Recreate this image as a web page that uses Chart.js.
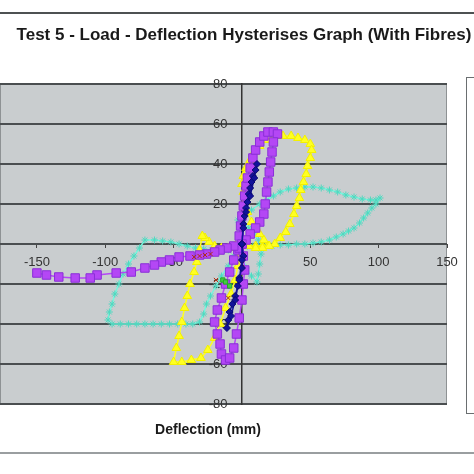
<!DOCTYPE html>
<html>
<head>
<meta charset="utf-8">
<script src="https://cdn.jsdelivr.net/npm/chart.js@4"></script>
<style>
    html, body { margin: 0; padding: 0; background: #fff; }
    #wrap { width: 474px; height: 474px; }
</style>
</head>
<body>
<div id="wrap"><canvas id="hysteresisChart" width="474" height="474"></canvas></div>
<script>
// Test 5 - load (kN) vs deflection (mm)
var chartTitle = 'Test 5 - Load - Deflection Hysterises Graph (With Fibres)';
var xAxisTitle = 'Deflection (mm)';

var xTickValues = [-150, -100, -50, 50, 100, 150];
var yTickValues = [-80, -60, -40, -20, 20, 40, 60, 80];

// [deflection, load]
var cycleNavy = [
    [0, 0], [1, 10], [2, 14], [3, 18], [4, 21], [5, 25], [6, 28], [7, 31], [8, 34], [10, 37], [11, 40],
    [9, 33], [6, 24], [3, 16], [1, 8], [0, 0], [1, -6], [0, -12], [-2, -17], [-3, -21], [-5, -26],
    [-7, -30], [-9, -34], [-10, -38], [-11, -42], [-8, -36], [-5, -28], [-2, -18], [0, -8], [0, 0]
];

var cycleRed = [
    [-35, -6.5], [-31, -6], [-27, -5.5], [-23, -5], [-19, -18], [-10, -27], [0, -10], [1, -6]
];

var cycleGreen = [
    [-14, -18], [-12, -19], [-9, -21]
];

var cyclePurple = [
    [0, 0], [-2, 4], [-1, 9], [0, 14], [1, 19], [2, 24], [3, 29], [4, 33], [6, 38], [8, 43], [10, 47],
    [13, 51], [16, 54], [19, 56], [23, 56], [26, 55], [23, 51], [22, 46], [21, 41], [20, 36], [19, 31],
    [18, 26], [17, 20], [16, 15], [13, 11], [10, 8], [6, 5], [3, 2], [0, 0],
    [-3, -3], [-6, -8], [-9, -14], [-12, -20], [-15, -27], [-18, -33], [-20, -39], [-18, -45], [-16, -50],
    [-15, -55], [-12, -58], [-9, -57], [-6, -52], [-4, -45], [-2, -37], [0, -28], [1, -20], [2, -13],
    [1, -6], [-2, -2],
    [-6, -1], [-11, -2], [-16, -3], [-20, -4], [-26, -5], [-31, -5.5], [-38, -6], [-46, -6.5], [-53, -8],
    [-59, -9], [-64, -10.5], [-71, -12], [-81, -14], [-92, -14.5], [-106, -15.5], [-111, -17], [-122, -17],
    [-134, -16.5], [-143, -15.5], [-150, -14.5]
];

var cycleYellow = [
    [0, 0], [5, -1], [10, -1], [15, -1], [19, -1], [16, 2], [13, 5], [10, 8], [7, 11], [4, 16], [2, 21],
    [1, 26], [0, 30], [1, 34], [3, 38], [6, 42], [9, 46], [13, 49], [18, 52], [24, 54], [30, 54], [36, 54],
    [41, 53], [46, 52], [50, 50], [51, 47], [50, 43], [48, 39], [47, 35], [45, 31], [43, 27], [42, 23],
    [40, 19], [38, 15], [35, 10], [32, 6], [28, 3], [24, 0], [20, -1], [15, -2], [10, -2], [5, -1], [0, 0],
    [-5, -1], [-10, -2], [-15, -2], [-20, -1], [-24, 1], [-27, 3], [-29, 4], [-31, -3], [-33, -9],
    [-35, -14], [-38, -20], [-40, -26], [-42, -32], [-44, -39], [-46, -46], [-48, -52], [-50, -59],
    [-44, -59], [-37, -58], [-30, -57], [-25, -53], [-20, -47], [-16, -40], [-12, -32], [-8, -25],
    [-5, -18], [-3, -11], [-1, -5], [0, 0]
];

var cycleCyan = [
    [0, 0], [4, -1], [8, -1], [12, -1], [15, -1], [12, 2], [9, 5], [5, 8], [1, 10], [-3, 12], [2, 15],
    [7, 17], [13, 20], [18, 22], [23, 24], [28, 26], [34, 27.5], [40, 28], [46, 28.5], [52, 28.5], [58, 28],
    [64, 27], [70, 26], [76, 24.5], [82, 23.5], [88, 22.5], [94, 22], [98, 22], [101, 23], [98, 20],
    [95, 18], [92, 15.5], [89, 13], [86, 10.5], [82, 8], [78, 6.5], [74, 5], [69, 3.5], [64, 2], [58, 1],
    [52, 0.5], [46, 0], [40, 0], [34, -0.5], [28, -0.5], [22, -1], [17, -1], [14, -5], [13, -10],
    [12, -15], [11, -19], [7, -16], [3, -12], [0, -6], [0, 0],
    [-5, -2], [-10, -3], [-16, -3], [-22, -3], [-28, -2.5], [-34, -2], [-40, -1], [-46, 0], [-52, 1],
    [-58, 1.5], [-64, 2], [-71, 2], [-75, -2], [-79, -6], [-83, -10], [-87, -15], [-90, -20], [-93, -25],
    [-95, -30], [-97, -34], [-98, -38], [-95, -40], [-89, -40], [-83, -40], [-77, -40], [-71, -40],
    [-65, -40], [-59, -40], [-53, -40], [-47, -40], [-41, -40], [-36, -40], [-31, -39], [-28, -35],
    [-26, -30], [-23, -26], [-19, -21], [-15, -16], [-10, -11], [-6, -6], [-2, -2], [0, 0]
];

function toPoints(pairs) {
    return pairs.map(function (p) { return { x: p[0], y: p[1] }; });
}

function series(pairs, color, edge, style, radius, joined) {
    return {
        data: toPoints(pairs),
        showLine: joined,
        borderColor: color,
        backgroundColor: color,
        borderWidth: 1.5,
        pointStyle: style,
        pointRadius: radius,
        pointBorderColor: edge,
        pointBackgroundColor: color,
        pointBorderWidth: 1
    };
}

// axes sit in the middle of the plot, so keep them from eating into the left edge
function noSidePadding(scale) {
    scale.paddingLeft = 0;
    scale.paddingRight = 0;
}

// plot background, excel frame, empty legend box and the two text captions
var excelFrame = {
    id: 'excelFrame',
    beforeDraw: function (chart) {
        var ctx = chart.ctx;
        var a = chart.chartArea;
        ctx.save();
        ctx.fillStyle = '#ffffff';
        ctx.fillRect(0, 0, chart.width, chart.height);

        ctx.fillStyle = '#c9cdcf';
        ctx.fillRect(a.left, a.top, a.right - a.left, a.bottom - a.top);
        ctx.strokeStyle = '#8e9294';
        ctx.lineWidth = 1;
        ctx.strokeRect(a.left + 0.5, a.top + 0.5, a.right - a.left - 1, a.bottom - a.top - 1);

        ctx.strokeStyle = '#4d5152';
        ctx.lineWidth = 2;
        ctx.beginPath();
        ctx.moveTo(0, 13);
        ctx.lineTo(chart.width, 13);
        ctx.stroke();
        ctx.strokeStyle = '#9a9ea0';
        ctx.beginPath();
        ctx.moveTo(0, 453);
        ctx.lineTo(chart.width, 453);
        ctx.stroke();

        ctx.strokeStyle = '#6a6e70';
        ctx.lineWidth = 1;
        ctx.strokeRect(466.5, 77.5, 30, 336);

        ctx.fillStyle = '#1a1a1a';
        ctx.textAlign = 'center';
        ctx.textBaseline = 'alphabetic';
        ctx.font = 'bold 17px "Liberation Sans", Arial, sans-serif';
        ctx.fillText(chartTitle, 244, 40);
        ctx.font = 'bold 14px "Liberation Sans", Arial, sans-serif';
        ctx.fillText(xAxisTitle, 208, 434);
        ctx.restore();
    }
};

var ctx = document.getElementById('hysteresisChart').getContext('2d');

new Chart(ctx, {
    type: 'scatter',
    data: {
        datasets: [
            series(cycleNavy, '#12129a', '#0a0a70', 'rectRot', 3.5, true),
            series(cycleRed, '#e0502a', '#b03010', 'crossRot', 3, false),
            series(cycleGreen, '#44cc44', '#22aa22', 'rect', 3, false),
            series(cyclePurple, '#b447f5', '#8a2fd8', 'rect', 6, true),
            series(cycleYellow, '#ffff22', '#f2f000', 'triangle', 5, true),
            series(cycleCyan, '#74f7de', '#4fd9c0', 'star', 3.5, true)
        ]
    },
    options: {
        responsive: false,
        animation: false,
        events: [],
        layout: { autoPadding: false, padding: { top: 84, right: 27, bottom: 70, left: 0 } },
        plugins: {
            legend: { display: false },
            tooltip: { enabled: false }
        },
        scales: {
            x: {
                type: 'linear',
                position: { y: 0 },
                min: -177,
                max: 150,
                afterBuildTicks: function (scale) {
                    scale.ticks = xTickValues.map(function (v) { return { value: v }; });
                },
                afterFit: noSidePadding,
                grid: { drawOnChartArea: false, drawTicks: true, tickLength: 4, color: '#444' },
                border: { display: false },
                ticks: {
                    color: '#333',
                    padding: 7,
                    maxRotation: 0,
                    autoSkip: false,
                    font: { family: '"Liberation Sans", Arial, sans-serif', size: 13 }
                }
            },
            y: {
                type: 'linear',
                position: { x: 0 },
                min: -80,
                max: 80,
                afterBuildTicks: function (scale) {
                    scale.ticks = [-80, -60, -40, -20, 0, 20, 40, 60, 80].map(function (v) { return { value: v }; });
                },
                afterFit: noSidePadding,
                grid: { color: '#4a4e50', lineWidth: 2, tickLength: 4 },
                border: { display: true, color: '#333', width: 1.5 },
                ticks: {
                    color: '#333',
                    autoSkip: false,
                    font: { family: '"Liberation Sans", Arial, sans-serif', size: 13 },
                    // labels are right-aligned on the axis line; trailing gap keeps them clear of it
                    callback: function (v) { return yTickValues.indexOf(v) === -1 ? '' : v + '    '; }
                }
            }
        }
    },
    plugins: [excelFrame]
});
</script>
</body>
</html>
